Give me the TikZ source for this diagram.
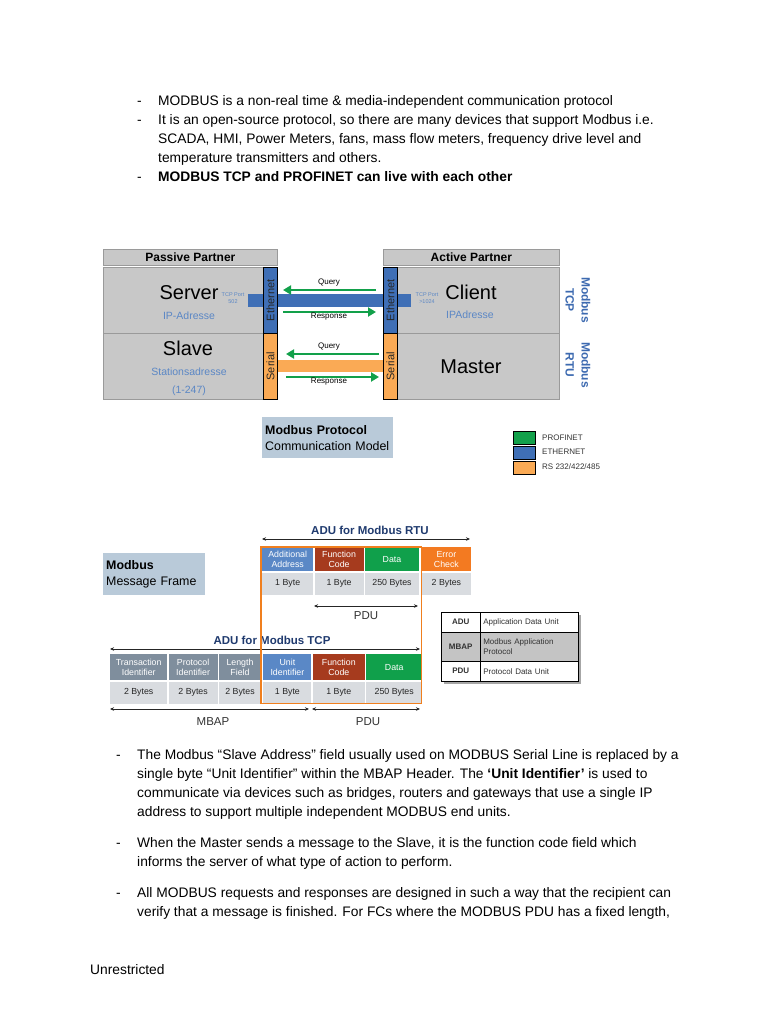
\documentclass[tikz,border=0pt]{standalone}
\usepackage{fontspec}
\setmainfont{Liberation Sans}
\usetikzlibrary{arrows.meta, positioning}

\definecolor{boxgray}{HTML}{C8C8C8}
\definecolor{boxline}{HTML}{9A9A9A}
\definecolor{ethblue}{HTML}{3F6FB6}
\definecolor{serorange}{HTML}{FAAA55}
\definecolor{pnetgreen}{HTML}{12A04A}
\definecolor{labelblue}{HTML}{5B87C5}
\definecolor{tcpblue}{HTML}{3D6AB0}
\definecolor{titlenavy}{HTML}{1F3A6E}
\definecolor{frameblue}{HTML}{B9CAD9}
\definecolor{fldblue}{HTML}{5A88C6}
\definecolor{fldred}{HTML}{A63B1E}
\definecolor{fldgreen}{HTML}{10A04B}
\definecolor{fldorange}{HTML}{F37A21}
\definecolor{fldslate}{HTML}{7F8E9D}
\definecolor{valgray}{HTML}{D9DCE0}
\definecolor{pduorange}{HTML}{F07F1E}
\definecolor{tablegray}{HTML}{C4C4C4}
\definecolor{textgray}{HTML}{333333}

\begin{document}
\begin{tikzpicture}[x=1pt, y=-1pt,
        body/.style={inner sep=0pt, anchor=north west, align=left, font=\fontsize{13.8}{19}\selectfont},
        partbox/.style={rectangle, fill=boxgray, draw=boxline, line width=0.8pt, anchor=north west, inner sep=0pt},
        parthead/.style={partbox, minimum height=16, font=\fontsize{12}{14}\selectfont\bfseries},
        ethbar/.style={rectangle, fill=ethblue, draw=black, line width=0.7pt, anchor=north west, inner sep=0pt, minimum width=14, minimum height=66},
        serbar/.style={ethbar, fill=serorange},
        bartext/.style={rotate=90, inner sep=0pt, text=black!85, font=\fontsize{11}{12}\selectfont},
        role/.style={inner sep=0pt, font=\fontsize{20}{22}\selectfont},
        addr/.style={inner sep=0pt, text=labelblue, font=\fontsize{10.5}{12}\selectfont},
        port/.style={inner sep=0pt, align=center, text=labelblue, font=\fontsize{5.5}{6.5}\selectfont},
        portsq/.style={rectangle, fill=ethblue, inner sep=0pt, minimum width=14, minimum height=13},
        band/.style={line width=#1},
        flow/.style={pnetgreen, line width=2.2pt, -{Triangle[length=8pt, width=9pt]}},
        msg/.style={inner sep=0pt, font=\fontsize{8}{9}\selectfont},
        sidelabel/.style={rotate=-90, inner sep=0pt, align=center, text=tcpblue, font=\fontsize{12}{16}\selectfont\bfseries},
        legendsq/.style={rectangle, draw=black, line width=0.5pt, anchor=north west, inner sep=0pt, minimum width=22, minimum height=12.5},
        legendtext/.style={anchor=west, inner sep=0pt, text=textgray, font=\fontsize{8}{9}\selectfont},
        titlebox/.style={rectangle, fill=frameblue, anchor=north west, inner xsep=3pt, inner ysep=0pt, align=left, font=\fontsize{12.4}{16}\selectfont},
        adutitle/.style={inner sep=0pt, text=titlenavy, font=\fontsize{11.5}{13}\selectfont\bfseries},
        field/.style={rectangle, fill=#1, text=white, inner sep=0pt, align=center, minimum height=24, font=\fontsize{8.8}{9.8}\selectfont},
        size/.style={rectangle, fill=valgray, text=black!85, inner sep=0pt, minimum height=22, font=\fontsize{8.8}{10}\selectfont},
        dim/.style={black!85, line width=0.8pt, {Stealth[length=4pt, width=3.5pt]}-{Stealth[length=4pt, width=3.5pt]}},
        dimtext/.style={inner sep=0pt, text=textgray, font=\fontsize{11.5}{13}\selectfont},
        abbr/.style={rectangle, draw=black, line width=0.5pt, anchor=north west, inner xsep=3pt, inner ysep=0pt, align=left, text=textgray, font=\fontsize{8}{9.5}\selectfont}
    ]
    \useasboundingbox (0,0) rectangle (768,1024);

    % Intro bullets
    \node[body] (intro) at (137,91.7) {%
        \begin{tabular}{@{}p{21pt}@{}l@{}}
        - & MODBUS is a non-real time \& media-independent communication protocol\\
        - & It is an open-source protocol, so there are many devices that support Modbus i.e.\\
          & SCADA, HMI, Power Meters, fans, mass flow meters, frequency drive level and\\
          & temperature transmitters and others.\\
        - & \textbf{MODBUS TCP and PROFINET can live with each other}
        \end{tabular}};

    % Communication model: passive side
    \node[parthead, minimum width=174] (passive) at (103,249) {Passive Partner};
    \node[partbox, minimum width=160, minimum height=66] (server) at (103,267) {};
    \node[partbox, minimum width=160, minimum height=66] (slave) at (103,333) {};

    % Communication model: active side
    \node[parthead, minimum width=176] (active) at (383,249) {Active Partner};
    \node[partbox, minimum width=162, minimum height=66] (client) at (397,267) {};
    \node[partbox, minimum width=162, minimum height=66] (master) at (397,333) {};

    % Ethernet and serial links
    \node[portsq] (srvport) at (255,300.5) {};
    \node[portsq] (cliport) at (403.5,300.5) {};
    \draw[band=13pt, ethblue] (srvport.center) -- (cliport.center);
    \coordinate (slvlink) at (277,366);
    \coordinate (mstlink) at (383,366);
    \draw[band=12pt, serorange] (slvlink) -- (mstlink);

    \node[ethbar] (ethL) at (263,267) {};
    \node[serbar] (serL) at (263,333) {};
    \node[ethbar] (ethR) at (383,267) {};
    \node[serbar] (serR) at (383,333) {};
    \node[bartext] (ethLtxt) at (ethL) {Ethernet};
    \node[bartext] (serLtxt) at (serL) {Serial};
    \node[bartext] (ethRtxt) at (ethR) {Ethernet};
    \node[bartext] (serRtxt) at (serR) {Serial};

    % Texts in the boxes
    \node[role] (srvname) at (189,293) {Server};
    \node[port] (srvtcp) at (233,298) {TCP Port\\502};
    \node[addr] (srvip) at (189,316) {IP-Adresse};
    \node[role] (slvname) at (188,348) {Slave};
    \node[addr] (slvaddr) at (189,372) {Stationsadresse};
    \node[addr] (slvrange) at (189,391) {(1-247)};
    \node[role] (cliname) at (471,292) {Client};
    \node[port] (clitcp) at (427,298) {TCP Port\\>1024};
    \node[addr] (cliip) at (470,315) {IPAdresse};
    \node[role] (mstname) at (471,367) {Master};

    % Query / Response arrows
    \coordinate (qtcpA) at (376,290);
    \coordinate (qtcpB) at (283,290);
    \coordinate (rtcpA) at (283,312);
    \coordinate (rtcpB) at (376,312);
    \coordinate (qrtuA) at (379,354);
    \coordinate (qrtuB) at (286,354);
    \coordinate (rrtuA) at (286,377);
    \coordinate (rrtuB) at (379,377);
    \draw[flow] (qtcpA) -- (qtcpB);
    \draw[flow] (rtcpA) -- (rtcpB);
    \draw[flow] (qrtuA) -- (qrtuB);
    \draw[flow] (rrtuA) -- (rrtuB);
    \node[msg] (qtcp) at (329,283) {Query};
    \node[msg] (rtcp) at (329,317) {Response};
    \node[msg] (qrtu) at (329,347) {Query};
    \node[msg] (rrtu) at (329,382) {Response};

    \node[sidelabel] (tcplbl) at (578,300) {Modbus\\TCP};
    \node[sidelabel] (rtulbl) at (578,365) {Modbus\\RTU};

    % Model caption and legend
    \node[titlebox, minimum width=131, minimum height=41, text width=125] (model) at (262,417) {\textbf{Modbus Protocol}\\Communication Model};
    \node[legendsq, fill=pnetgreen] (lgreen) at (513,431) {};
    \node[legendsq, fill=ethblue] (lblue) at (513,446) {};
    \node[legendsq, fill=serorange] (lorange) at (513,461) {};
    \node[legendtext] (tgreen) at (542,438) {PROFINET};
    \node[legendtext] (tblue) at (542,452) {ETHERNET};
    \node[legendtext] (torange) at (542,466.5) {RS 232/422/485};

    % Message frame caption
    \node[titlebox, minimum width=102, minimum height=42, text width=96] (frame) at (103,553) {\textbf{Modbus}\\Message Frame};

    % ADU for Modbus RTU
    \node[adutitle] (rtutitle) at (370,530) {ADU for Modbus RTU};
    \node[field=fldblue, minimum width=51, anchor=north west] (raddr) at (262,547) {Additional\\Address};
    \node[field=fldred, minimum width=49, right=1pt of raddr] (rfc) {Function\\Code};
    \node[field=fldgreen, minimum width=54, right=1pt of rfc] (rdata) {Data};
    \node[field=fldorange, minimum width=50, right=2pt of rdata] (rerr) {Error\\Check};
    \node[size, minimum width=51, below=1pt of raddr] (raddrv) {1 Byte};
    \node[size, minimum width=49, below=1pt of rfc] (rfcv) {1 Byte};
    \node[size, minimum width=54, below=1pt of rdata] (rdatav) {250 Bytes};
    \node[size, minimum width=50, below=1pt of rerr] (rerrv) {2 Bytes};
    \coordinate (rtuL) at (262,539);
    \coordinate (rtuR) at (470,539);
    \draw[dim] (rtuL) -- (rtuR);
    \coordinate (rpduL) at (314,606);
    \coordinate (rpduR) at (418,606);
    \draw[dim] (rpduL) -- (rpduR);
    \node[dimtext] (rpdu) at (366,616) {PDU};

    % ADU for Modbus TCP
    \node[adutitle] (tcptitle) at (272,640) {ADU for Modbus TCP};
    \node[field=fldslate, minimum width=57, minimum height=26, anchor=north west] (tid) at (110,654) {Transaction\\Identifier};
    \node[field=fldslate, minimum width=49, minimum height=26, right=1pt of tid] (pid) {Protocol\\Identifier};
    \node[field=fldslate, minimum width=42, minimum height=26, right=1pt of pid] (len) {Length\\Field};
    \node[field=fldblue, minimum width=48, minimum height=26, right=2pt of len] (uid) {Unit\\Identifier};
    \node[field=fldred, minimum width=52, minimum height=26, right=1pt of uid] (tfc) {Function\\Code};
    \node[field=fldgreen, minimum width=56, minimum height=26, right=1pt of tfc] (tdata) {Data};
    \node[size, minimum width=57, below=1pt of tid] (tidv) {2 Bytes};
    \node[size, minimum width=49, below=1pt of pid] (pidv) {2 Bytes};
    \node[size, minimum width=42, below=1pt of len] (lenv) {2 Bytes};
    \node[size, minimum width=48, below=1pt of uid] (uidv) {1 Byte};
    \node[size, minimum width=52, below=1pt of tfc] (tfcv) {1 Byte};
    \node[size, minimum width=56, below=1pt of tdata] (tdatav) {250 Bytes};
    \coordinate (tcpL) at (110,649);
    \coordinate (tcpR) at (420,649);
    \draw[dim] (tcpL) -- (tcpR);
    \coordinate (mbapL) at (110,709);
    \coordinate (mbapR) at (309,709);
    \coordinate (tpduL) at (312,709);
    \coordinate (tpduR) at (420,709);
    \draw[dim] (mbapL) -- (mbapR);
    \draw[dim] (tpduL) -- (tpduR);
    \node[dimtext] (mbap) at (213,722) {MBAP};
    \node[dimtext] (tpdu) at (368,722) {PDU};

    % PDU frame
    \draw[pduorange, line width=1.2pt] ([xshift=-1pt]raddr.north west) rectangle ([xshift=-1pt]tdatav.south east);

    % Abbreviations
    \fill[black!35] (444,615) rectangle (581,684);
    \node[abbr, fill=white, minimum width=39, minimum height=20, font=\fontsize{8}{9.5}\selectfont\bfseries] (kadu) at (441,612) {ADU};
    \node[abbr, fill=white, minimum width=98, minimum height=20, text width=92] (vadu) at (480,612) {Application Data Unit};
    \node[abbr, fill=tablegray, minimum width=39, minimum height=29, font=\fontsize{8}{9.5}\selectfont\bfseries] (kmbap) at (441,632) {MBAP};
    \node[abbr, fill=tablegray, minimum width=98, minimum height=29, text width=92] (vmbap) at (480,632) {Modbus Application\\Protocol};
    \node[abbr, fill=white, minimum width=39, minimum height=20, font=\fontsize{8}{9.5}\selectfont\bfseries] (kpdu) at (441,661) {PDU};
    \node[abbr, fill=white, minimum width=98, minimum height=20, text width=92] (vpdu) at (480,661) {Protocol Data Unit};

    % Closing bullets
    \node[body] (notes) at (116,745.7) {%
        \begin{tabular}{@{}p{21pt}@{}l@{}}
        - & The Modbus “Slave Address” field usually used on MODBUS Serial Line is replaced by a\\
          & single byte “Unit Identifier” within the MBAP Header. The \textbf{‘Unit Identifier’} is used to\\
          & communicate via devices such as bridges, routers and gateways that use a single IP\\
          & address to support multiple independent MODBUS end units.\\[12pt]
        - & When the Master sends a message to the Slave, it is the function code field which\\
          & informs the server of what type of action to perform.\\[12pt]
        - & All MODBUS requests and responses are designed in such a way that the recipient can\\
          & verify that a message is finished. For FCs where the MODBUS PDU has a fixed length,
        \end{tabular}};

    \node[anchor=base west, inner sep=0pt, font=\fontsize{13.8}{19}\selectfont] (footer) at (90,974) {Unrestricted};
\end{tikzpicture}
\end{document}
